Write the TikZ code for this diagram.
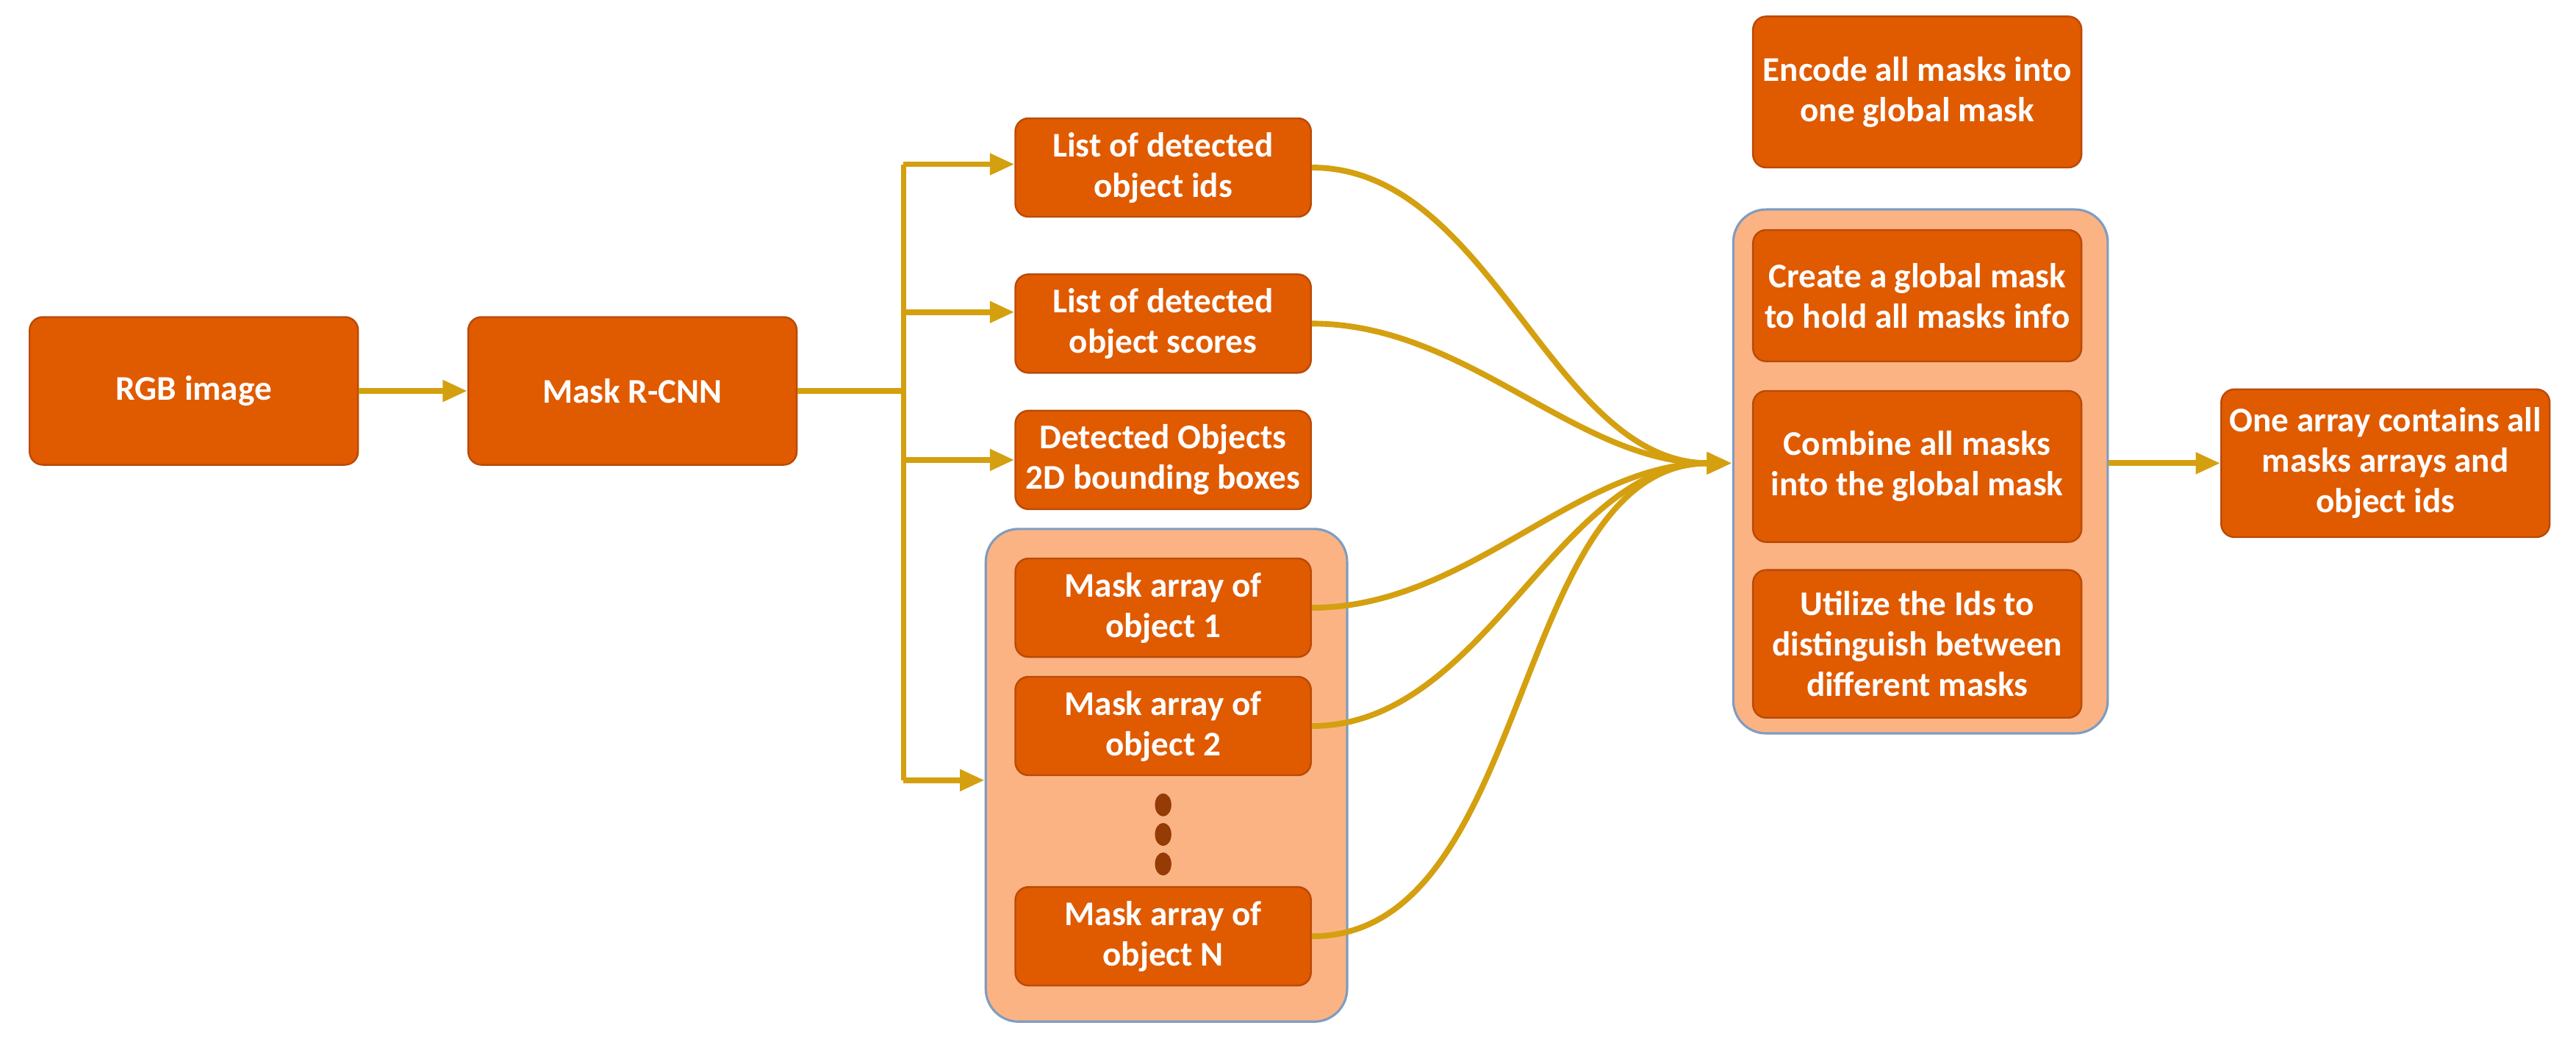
\documentclass[tikz,border=0pt]{standalone}
\usepackage{fontspec}
\setmainfont{Carlito}
\usetikzlibrary{arrows.meta,shapes.geometric}
\definecolor{boxo}{HTML}{E05A00}
\definecolor{boxb}{HTML}{B94A08}
\definecolor{arr}{HTML}{D4A010}
\definecolor{cont}{HTML}{FBB384}
\definecolor{contb}{HTML}{7F9CC0}
\begin{document}
\begin{tikzpicture}[x=0.02cm,y=-0.02cm,
  box/.style={draw=boxb,fill=boxo,rounded corners=0.16cm,text=white,font=\bfseries\fontsize{12}{14}\selectfont,align=center,inner sep=0pt,line width=0.6pt},
  sm/.style={box,minimum width=3.6cm,minimum height=1.2cm},
  bg/.style={box,minimum width=4cm,minimum height=1.8cm},
  ct/.style={draw=contb,fill=cont,rounded corners=0.4cm,line width=0.8pt},
  ar/.style={draw=arr,line width=2pt,-{Triangle[length=0.3cm,width=0.25cm]}},
  ln/.style={draw=arr,line width=2pt}]
\useasboundingbox (0,0) rectangle (1568,641);
\fill[white] (0,0) rectangle (1568,641);
\node[ct,minimum width=4.4cm,minimum height=6cm] (c1) at (710,472) {};
\node[ct,minimum width=4.56cm,minimum height=6.38cm] (c2) at (1169,287) {};
\node[bg] (rgb) at (118,238) {RGB image};
\node[bg] (mr) at (385,238) {Mask R-CNN};
\node[sm] (ids) at (708,102) {List of detected\\object ids};
\node[sm] (sc) at (708,197) {List of detected\\object scores};
\node[sm] (bb) at (708,280) {Detected Objects\\2D bounding boxes};
\node[sm] (m1) at (708,370) {Mask array of\\object 1};
\node[sm] (m2) at (708,442) {Mask array of\\object 2};
\node[sm] (mn) at (708,570) {Mask array of\\object N};
\foreach \i/\yy in {1/490,2/508,3/526} \node[fill=boxb!80!black,ellipse,minimum width=0.2cm,minimum height=0.28cm,inner sep=0pt] (d\i) at (708,\yy) {};
\node[bg,minimum height=1.84cm] (enc) at (1167,56) {Encode all masks into\\one global mask};
\node[bg,minimum height=1.6cm] (cr) at (1167,180) {Create a global mask\\to hold all masks info};
\node[bg,minimum height=1.84cm] (cb) at (1167,284) {Combine all masks\\into the global mask};
\node[bg] (ut) at (1167,392) {Utilize the Ids  to\\distinguish between\\different masks};
\node[bg] (out) at (1452,282) {One array contains all\\masks arrays and\\object ids};
\coordinate (j) at (550,238);
\coordinate (jt) at (550,100);
\coordinate (jb) at (550,475);
\coordinate (cv) at (1054,282);
\draw[ar] (rgb) -- (mr);
\draw[ln] (mr.east) -- (j);
\draw[ln] (jt) -- (jb);
\draw[ar] (jt) -- (ids.west|-jt);
\draw[ar] (550,190) -- (ids.west|-0,190);
\draw[ar] (550,280) -- (bb.west);
\draw[ar] (jb) -- (c1.west|-jb);
\foreach \n in {ids,sc,m1,m2,mn}
  \draw[ar] (\n.east) to[out=0,in=180,looseness=0.9] (cv);
\draw[ar] (c2.east|-out) -- (out);
\end{tikzpicture}
\end{document}
